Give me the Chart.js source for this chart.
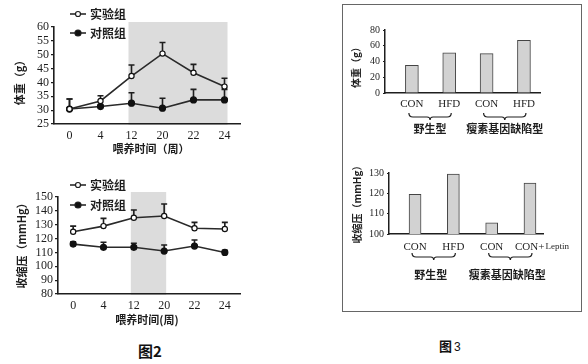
<!DOCTYPE html>
<html><head><meta charset="utf-8">
<script src="https://cdn.jsdelivr.net/npm/chart.js@4.4.1/dist/chart.umd.min.js"></script>
<style>
html,body{margin:0;padding:0;background:#fff;}
body{width:588px;height:364px;position:relative;overflow:hidden;}
canvas{position:absolute;}
.box{position:absolute;left:342px;top:4px;width:240px;height:308px;border:1px solid #666;box-sizing:border-box;}
.cap{position:absolute;color:#111;line-height:18px;white-space:nowrap;}
</style></head><body>
<div class="box"></div>
<canvas id="c1" width="290" height="160" style="left:0;top:0"></canvas>
<canvas id="c2" width="290" height="175" style="left:0;top:165px"></canvas>
<canvas id="c3" width="258" height="140" style="left:330px;top:0"></canvas>
<canvas id="c4" width="258" height="140" style="left:330px;top:150px"></canvas>
<div class="cap" style="left:138px;top:340px;font:bold 15px 'Noto Sans CJK SC';">图2</div>
<div class="cap" style="left:439px;top:336px;"><span style="font:bold 13px 'Noto Sans CJK SC';">图</span><span style="font:12px 'Liberation Sans';margin-left:2px;">3</span></div>
<script>
// ---- data ----
const weeks = ['0', '4', '12', '20', '22', '24'];
const seriesNames = ['实验组', '对照组'];
const weightExp = [30.4, 33.3, 42.3, 50.4, 43.5, 38.5];
const weightExpErr = [34, 35.2, 46.3, 54.4, 46.5, 41.5];
const weightCtl = [30.4, 31.3, 32.5, 30.7, 33.7, 33.7];
const weightCtlErr = [34, 32, 36.3, 34.3, 37.5, 37.5];
const bpExp = [124.9, 129, 135, 136.3, 127.4, 126.9];
const bpExpErr = [129, 134.6, 140.6, 145, 131.7, 131.7];
const bpCtl = [116, 113.7, 113.7, 111, 114.6, 110];
const bpCtlErr = [117.7, 117.3, 116.6, 115.4, 119, 111.5];
const barLabels1 = ['CON', 'HFD', 'CON', 'HFD'];
const barWeight = [35, 51, 50, 67];
const barLabels2 = ['CON', 'HFD', 'CON', 'CON+Leptin'];
const barBP = [119.5, 129.5, 105.5, 125];
const groupLabels = ['野生型', '瘦素基因缺陷型'];

const CJK = "'Noto Sans CJK SC'";
const SERIF = "'Liberation Serif'";
Chart.defaults.font.family = SERIF;
Chart.defaults.color = '#1a1a1a';
const INK = '#1e1e1e';

function txt(ctx, s, x, y, font, align, rot) {
  ctx.save(); ctx.translate(x, y); if (rot) ctx.rotate(rot);
  ctx.font = font; ctx.fillStyle = INK; ctx.textAlign = align || 'center'; ctx.textBaseline = 'middle';
  ctx.fillText(s, 0, 0); ctx.restore();
}

function lineChart(id, o) {
  const deco = {
    id: 'deco',
    beforeDraw(chart) {
      const {ctx, chartArea: a, scales: {x}} = chart;
      const x0 = x.getPixelForValue(o.shade[0]) - 3, x1 = x.getPixelForValue(o.shade[1]) + o.shadeR;
      ctx.save(); ctx.fillStyle = '#dcdcdc';
      ctx.fillRect(x0, a.top - 5, x1 - x0, a.bottom - a.top + 6);
      ctx.restore();
    },
    beforeDatasetsDraw(chart) {
      const {ctx, scales: {x, y}} = chart;
      ctx.save(); ctx.strokeStyle = INK; ctx.lineWidth = 1.6;
      o.vals.forEach((vals, i) => {
        vals.forEach((v, j) => {
          const px = x.getPixelForValue(j), py = y.getPixelForValue(v), pe = y.getPixelForValue(o.errs[i][j]);
          ctx.beginPath(); ctx.moveTo(px, py); ctx.lineTo(px, pe);
          ctx.moveTo(px - 3, pe); ctx.lineTo(px + 3, pe); ctx.stroke();
        });
      });
      ctx.restore();
    },
    afterDraw(chart) {
      const {ctx} = chart;
      o.legendY.forEach((ly, i) => {
        ctx.save(); ctx.strokeStyle = INK; ctx.lineWidth = 1.5;
        ctx.beginPath(); ctx.moveTo(70, ly); ctx.lineTo(86, ly); ctx.stroke();
        ctx.beginPath(); ctx.arc(78, ly, i === 0 ? 2.5 : 3, 0, Math.PI * 2);
        ctx.fillStyle = i === 0 ? '#fff' : '#111'; ctx.fill(); ctx.lineWidth = 1.2; ctx.stroke();
        ctx.restore();
        txt(ctx, seriesNames[i], 90, ly, 'bold 12px ' + CJK, 'left');
      });
      txt(ctx, o.yTitle, o.yTitlePos[0], o.yTitlePos[1], 'bold 11px ' + CJK, 'center', -Math.PI / 2);
      txt(ctx, o.xTitle, o.xTitlePos[0], o.xTitlePos[1], 'bold 11px ' + CJK, 'center');
    }
  };
  return new Chart(document.getElementById(id), {
    type: 'line',
    data: {
      labels: weeks,
      datasets: o.vals.map((vals, i) => ({
        label: seriesNames[i], data: vals,
        borderColor: '#2a2a2a', borderWidth: 1.6, tension: 0,
        pointRadius: i === 0 ? 2.6 : 3, pointBorderWidth: 1.2, pointBorderColor: '#111',
        pointBackgroundColor: i === 0 ? '#fff' : '#111'
      }))
    },
    options: {
      responsive: false, animation: false, events: [],
      layout: {padding: {left: 0, top: o.top, right: o.right, bottom: 0}},
      plugins: {legend: {display: false}, tooltip: {enabled: false}},
      scales: {
        x: {
          offset: true, grid: {display: false, drawTicks: false},
          border: {display: true, color: INK, width: 1.6},
          ticks: {padding: 5, font: {size: 12}, color: INK, maxRotation: 0, autoSkip: false},
          afterFit: s => { s.height = o.xh; }
        },
        y: {
          min: o.yMin, max: o.yMax,
          grid: {display: true, drawOnChartArea: false, drawTicks: true, tickLength: 3, color: INK, lineWidth: 1.2},
          border: {display: true, color: INK, width: 1.6},
          ticks: {stepSize: o.step, padding: 2, font: {size: 12}, color: INK, autoSkip: false},
          afterFit: s => { s.width = o.left; }
        }
      }
    },
    plugins: [deco]
  });
}

lineChart('c1', {
  vals: [weightExp, weightCtl], errs: [weightExpErr, weightCtlErr],
  yMin: 25, yMax: 60, step: 5, shade: [2, 5], shadeR: 3,
  top: 27, right: 50, left: 54, xh: 36,
  legendY: [14, 33],
  yTitle: '体重（g）', yTitlePos: [20, 80],
  xTitle: '喂养时间（周）', xTitlePos: [151, 149]
});
lineChart('c2', {
  vals: [bpExp, bpCtl], errs: [bpExpErr, bpCtlErr],
  yMin: 80, yMax: 150, step: 10, shade: [2, 3], shadeR: 2,
  top: 32, right: 50, left: 58, xh: 46,
  legendY: [20, 40],
  yTitle: '收缩压（mmHg）', yTitlePos: [22, 78],
  xTitle: '喂养时间(周)', xTitlePos: [147, 155]
});

function brace(ctx, x1, x2, y) {
  const mid = (x1 + x2) / 2;
  ctx.save(); ctx.strokeStyle = INK; ctx.lineWidth = 1.2;
  ctx.beginPath();
  ctx.moveTo(x1, y - 4);
  ctx.quadraticCurveTo(x1, y, x1 + 4, y);
  ctx.lineTo(mid - 3, y);
  ctx.quadraticCurveTo(mid, y, mid, y + 3);
  ctx.quadraticCurveTo(mid, y, mid + 3, y);
  ctx.lineTo(x2 - 4, y);
  ctx.quadraticCurveTo(x2, y, x2, y - 4);
  ctx.stroke(); ctx.restore();
}

function barChart(id, o) {
  const deco = {
    id: 'deco',
    afterDraw(chart) {
      const {ctx, scales: {x}} = chart;
      o.labels.forEach((l, i) => {
        const px = x.getPixelForValue(i + 1);
        if (l.indexOf('+') > 0) {
          const parts = l.split('+');
          ctx.save(); ctx.font = '11px ' + SERIF; const w = ctx.measureText(parts[0] + '+').width; ctx.restore();
          const sx = px - 15;
          txt(ctx, parts[0] + '+', sx, o.labelY, '11px ' + SERIF, 'left');
          txt(ctx, parts[1], sx + w + 1, o.labelY, '9px ' + SERIF, 'left');
        } else {
          txt(ctx, l, px, o.labelY, '11px ' + SERIF, 'center');
        }
      });
      [[1, 2], [3, 4]].forEach((g, k) => {
        const a = x.getPixelForValue(g[0]) - 3, b = x.getPixelForValue(g[1]) + 2;
        brace(ctx, a, b, o.braceY);
        txt(ctx, groupLabels[k], (a + b) / 2 + o.groupDx[k], o.groupY, 'bold 11px ' + CJK, 'center');
      });
      txt(ctx, o.yTitle, o.yTitlePos[0], o.yTitlePos[1], 'bold 10px ' + CJK, 'center', -Math.PI / 2);
    }
  };
  return new Chart(document.getElementById(id), {
    type: 'bar',
    data: {
      datasets: [{
        data: o.vals.map((v, i) => ({x: i + 1, y: v})),
        backgroundColor: '#d2d2d2', borderColor: '#444', borderWidth: 1, barThickness: o.bw
      }]
    },
    options: {
      responsive: false, animation: false, events: [],
      layout: {padding: {left: 0, top: o.top, right: o.right, bottom: 0}},
      plugins: {legend: {display: false}, tooltip: {enabled: false}},
      scales: {
        x: {
          type: 'linear', offset: false, min: o.xMin, max: o.xMax,
          grid: {display: false, drawTicks: false},
          border: {display: true, color: INK, width: 1.5},
          ticks: {display: false},
          afterFit: s => { s.height = o.xh; }
        },
        y: {
          min: o.yMin, max: o.yMax,
          grid: {display: true, drawOnChartArea: false, drawTicks: true, tickLength: 2, color: INK},
          border: {display: true, color: INK, width: 1.5},
          ticks: {stepSize: o.step, padding: 3, font: {size: 10}, color: INK, autoSkip: false},
          afterFit: s => { s.width = o.left; }
        }
      }
    },
    plugins: [deco]
  });
}

barChart('c3', {
  vals: barWeight, labels: barLabels1, yMin: 0, yMax: 80, step: 20,
  xMin: 0.28, xMax: 4.43, bw: 13,
  top: 30, right: 48, left: 55, xh: 47,
  labelY: 104, braceY: 117, groupY: 129, groupDx: [0, 0],
  yTitle: '体重（g）', yTitlePos: [26, 65]
});
barChart('c4', {
  vals: barBP, labels: barLabels2, yMin: 100, yMax: 130, step: 10,
  xMin: 0.32, xMax: 4.34, bw: 12,
  top: 23, right: 45, left: 59, xh: 56,
  labelY: 97, braceY: 107, groupY: 125, groupDx: [-3, -3],
  yTitle: '收缩压（mmHg）', yTitlePos: [27, 52]
});
</script>
</body></html>
